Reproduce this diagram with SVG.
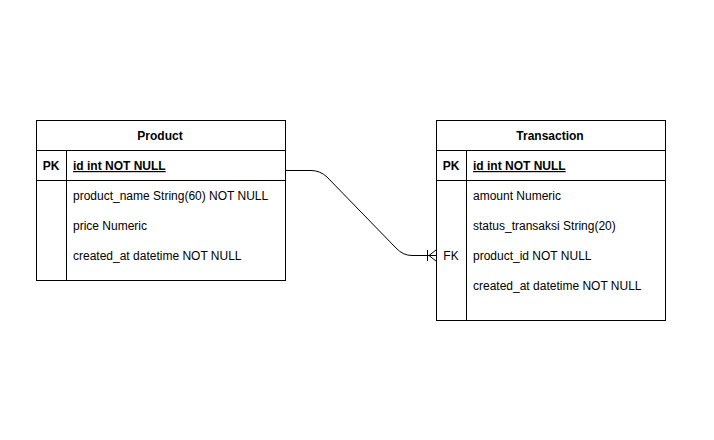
<svg xmlns="http://www.w3.org/2000/svg" width="714" height="440" viewBox="0 0 714 440">
<style>
.b{fill:#fff;stroke:#000;stroke-width:1}
.l{stroke:#000;stroke-width:1;fill:none}
text{font-family:"Liberation Sans",Arial,sans-serif;font-size:12px;fill:#000}
.h{font-weight:bold;text-anchor:middle}
.k{font-weight:bold}
.c{text-anchor:middle}
</style>
<rect width="714" height="440" fill="#fff"/>
<g id="product">
<rect class="b" x="36.5" y="120.5" width="249" height="160"/>
<line class="l" x1="36.5" y1="150.5" x2="285.5" y2="150.5"/>
<line class="l" x1="36.5" y1="180.5" x2="285.5" y2="180.5"/>
<line class="l" x1="66.5" y1="150.5" x2="66.5" y2="280.5"/>
<text class="h" x="160" y="140">Product</text>
<text class="k c" x="51" y="170">PK</text>
<text class="k" x="73" y="170" text-decoration="underline">id int NOT NULL</text>
<text x="73" y="200">product_name String(60) NOT NULL</text>
<text x="73" y="230">price Numeric</text>
<text x="73" y="260">created_at datetime NOT NULL</text>
</g>
<g id="transaction">
<rect class="b" x="436.5" y="120.5" width="229" height="200"/>
<line class="l" x1="436.5" y1="150.5" x2="665.5" y2="150.5"/>
<line class="l" x1="436.5" y1="180.5" x2="665.5" y2="180.5"/>
<line class="l" x1="466.5" y1="150.5" x2="466.5" y2="320.5"/>
<text class="h" x="550" y="140">Transaction</text>
<text class="k c" x="451" y="170">PK</text>
<text class="k" x="473" y="170" text-decoration="underline">id int NOT NULL</text>
<text x="473" y="200">amount Numeric</text>
<text x="473" y="230">status_transaksi String(20)</text>
<text class="c" x="451" y="260">FK</text>
<text x="473" y="260">product_id NOT NULL</text>
<text x="473" y="290">created_at datetime NOT NULL</text>
</g>
<g id="connectors">
<path class="l" d="M286 170.5 H311 Q320 170.5 327 177 L396 248 Q403 255.5 412 255.5 H436"/>
<line class="l" x1="427.5" y1="250" x2="427.5" y2="261"/>
<path class="l" d="M436 250 L429 255.5 L436 261"/>
</g>
</svg>
